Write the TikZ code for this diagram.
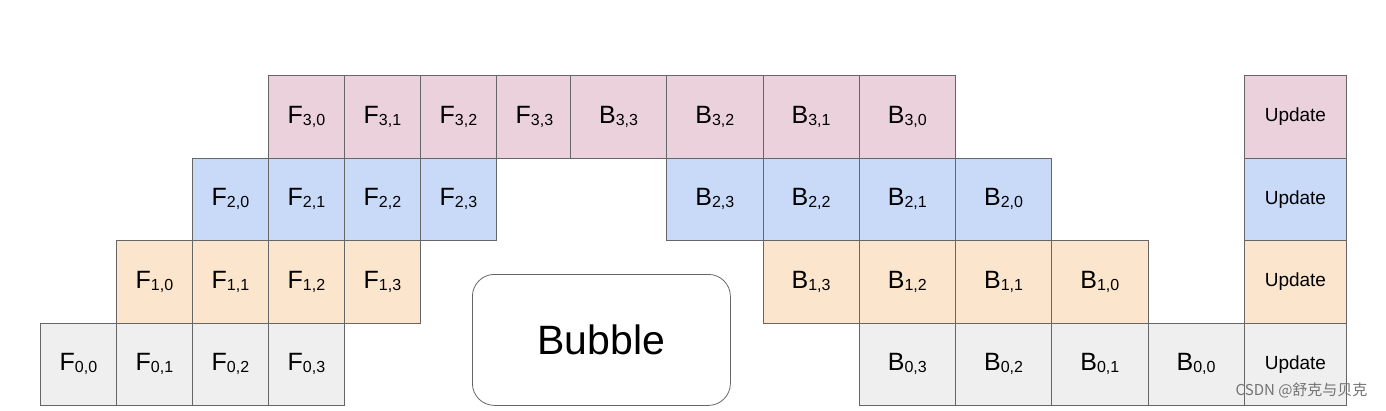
\documentclass[tikz,border=0pt]{standalone}
\usepackage{fontspec}
\setmainfont{Liberation Sans}
\newfontfamily\cjk{Noto Sans CJK SC}
\definecolor{cP}{HTML}{EAD1DC}
\definecolor{cB}{HTML}{C9DAF8}
\definecolor{cO}{HTML}{FCE5CD}
\definecolor{cG}{HTML}{EFEFEF}
\definecolor{bd}{HTML}{666666}
\tikzset{cell/.style={draw=bd,line width=0.8pt,fill=#1,inner sep=0pt,anchor=north west,font=\fontsize{25}{28}\selectfont}}
\begin{document}
\begin{tikzpicture}[x=1pt,y=-1pt]
\useasboundingbox (0,0) rectangle (1386,410);
% F cells
\foreach \i/\c in {0/cG,1/cO,2/cB,3/cP}{
 \foreach \j in {0,...,3}{
  \pgfmathsetmacro{\xa}{40+76*(\i+\j)}
  \pgfmathsetmacro{\yy}{322.5-82.5*\i}
  \node[cell=\c,minimum width=76pt,minimum height=82.5pt] (F\i\j) at (\xa,\yy) {F{\fontsize{16}{18}\selectfont\raisebox{-0.25ex}{\i,\j}}};
 }}
% B cells
\foreach \i/\c in {0/cG,1/cO,2/cB,3/cP}{
 \foreach \k in {0,...,3}{
  \pgfmathtruncatemacro{\j}{3-\k}
  \pgfmathsetmacro{\xa}{570+96.25*(3-\i+\k)}
  \pgfmathsetmacro{\yy}{322.5-82.5*\i}
  \node[cell=\c,minimum width=96.25pt,minimum height=82.5pt] (B\i\j) at (\xa,\yy) {B{\fontsize{16}{18}\selectfont\raisebox{-0.25ex}{\i,\j}}};
 }}
% Update cells
\foreach \i/\c in {0/cG,1/cO,2/cB,3/cP}{
  \pgfmathsetmacro{\yy}{322.5-82.5*\i}
  \node[cell=\c,minimum width=102pt,minimum height=82.5pt,font=\fontsize{19}{22}\selectfont] (U\i) at (1244,\yy) {Update};
}
\node[draw=bd,line width=0.8pt,rounded corners=22pt,minimum width=258pt,minimum height=131pt,anchor=north west,font=\fontsize{41}{44}\selectfont] (bub) at (472,274) {Bubble};
\node[anchor=east,text=black!55,font=\cjk\fontsize{15}{17}\selectfont] (wm) at (1371,390) {CSDN @舒克与贝克};
\end{tikzpicture}
\end{document}
